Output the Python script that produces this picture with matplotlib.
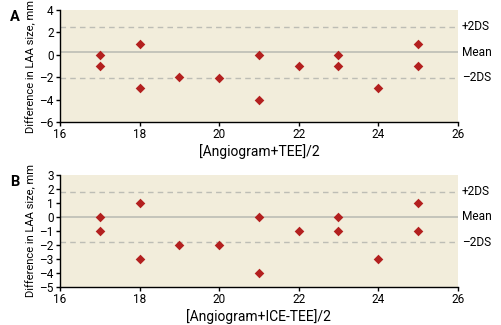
import matplotlib
matplotlib.use("Agg")
import matplotlib.pyplot as plt

plt.rcParams["font.family"] = ["Roboto", "DejaVu Sans"]

BG = "#F2EDDB"
RED = "#B3201F"
LINE = "#BDBDB5"

# ---------- data ----------
x_vals = [17, 17, 18, 18, 19, 20, 21, 21, 22, 23, 23, 24, 25, 25]
diff_a = [0, -1, 1, -3, -2, -2.1, 0, -4, -1, 0, -1, -3, 1, -1]
diff_b = [0, -1, 1, -3, -2, -2, 0, -4, -1, 0, -1, -3, 1, -1]

mean_a, upper_a, lower_a = 0.25, 2.5, -2.05
mean_b, upper_b, lower_b = 0.0, 1.8, -1.8

panels = [
    dict(tag="A", y=diff_a, lines=(upper_a, mean_a, lower_a), ylim=(-6, 4),
         yticks=[-6, -4, -2, 0, 2, 4], xlabel="[Angiogram+TEE]/2",
         rect=[0.1195, 0.6246, 0.7925, 0.3446]),
    dict(tag="B", y=diff_b, lines=(upper_b, mean_b, lower_b), ylim=(-5, 3),
         yticks=list(range(-5, 4)), xlabel="[Angiogram+ICE-TEE]/2",
         rect=[0.1195, 0.1178, 0.7925, 0.3437]),
]

fig = plt.figure(figsize=(5.02, 3.25), dpi=100)

for p in panels:
    ax = fig.add_axes(p["rect"])
    ax.set_facecolor(BG)
    up, mn, lo = p["lines"]
    ax.axhline(mn, color=LINE, lw=1.2, zorder=1)
    ax.axhline(up, color=LINE, lw=1.0, ls=(0, (4, 3)), zorder=1)
    ax.axhline(lo, color=LINE, lw=1.0, ls=(0, (4, 3)), zorder=1)
    ax.scatter(x_vals, p["y"], marker="D", s=24, color=RED, zorder=3, lw=0)
    ax.set_xlim(16, 26)
    ax.set_ylim(*p["ylim"])
    ax.set_xticks([16, 18, 20, 22, 24, 26])
    ax.set_yticks(p["yticks"])
    ax.set_yticklabels([str(v).replace("-", "\u2013") for v in p["yticks"]])
    for s in ("top", "right"):
        ax.spines[s].set_visible(False)
    ax.spines["left"].set_linewidth(1.0)
    ax.spines["bottom"].set_linewidth(1.0)
    ax.tick_params(length=3, width=1, labelsize=8.5, pad=1.5)
    ax.set_xlabel(p["xlabel"], fontsize=10, labelpad=2)
    ax.set_ylabel("Difference in LAA size, mm", fontsize=8, labelpad=2)
    for val, txt in zip(p["lines"], ["+2DS", "Mean", "\u20132DS"]):
        ax.text(1.01, val, txt, transform=ax.get_yaxis_transform(),
                fontsize=8.6, va="center", ha="left")
    ax.text(-0.125, 1.0, p["tag"], transform=ax.transAxes, fontsize=10.5,
            fontweight="bold", va="top", ha="left")

fig.savefig("out.png", dpi=100)
